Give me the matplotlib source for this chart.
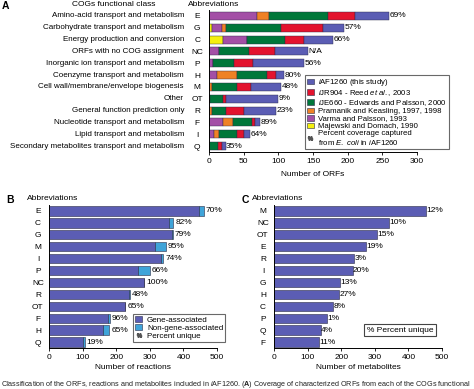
import matplotlib
matplotlib.use('Agg')
import matplotlib.pyplot as plt
import matplotlib.transforms as mtransforms
from matplotlib.patches import Patch
from matplotlib.lines import Line2D

plt.rcParams['font.family'] = ['Liberation Sans', 'DejaVu Sans']
plt.rcParams['font.size'] = 5.8
plt.rcParams['mathtext.fontset'] = 'custom'
plt.rcParams['mathtext.rm'] = 'Liberation Sans'
plt.rcParams['mathtext.it'] = 'Liberation Sans:italic'
plt.rcParams['mathtext.bf'] = 'Liberation Sans:bold'

# ---- panel A data: ORFs per COG class, split by model that first covered them
cog_names = ['Amino-acid transport and metabolism', 'Carbohydrate transport and metabolism',
             'Energy production and conversion', 'ORFs with no COG assignment',
             'Inorganic ion transport and metabolism', 'Coenzyme transport and metabolism',
             'Cell wall/membrane/envelope biogenesis', 'Other',
             'General function prediction only', 'Nucleotide transport and metabolism',
             'Lipid transport and metabolism', 'Secondary metabolites transport and metabolism']
cog_abbr = ['E', 'G', 'C', 'NC', 'P', 'H', 'M', 'OT', 'R', 'F', 'I', 'Q']
majewski = [0, 5, 20, 0, 0, 0, 0, 0, 0, 0, 0, 0]
varma = [69, 14, 35, 14, 6, 11, 0, 1, 0, 20, 7, 0]
pramanik = [18, 6, 0, 0, 0, 30, 5, 0, 4, 14, 7, 0]
ije660 = [84, 79, 54, 43, 30, 42, 35, 19, 21, 28, 26, 13]
ijr904 = [40, 60, 28, 38, 27, 14, 20, 5, 25, 5, 10, 6]
iaf1260 = [49, 31, 42, 48, 74, 11, 44, 75, 47, 7, 9, 5]
cog_pct = ['69%', '57%', '66%', 'N/A', '56%', '80%', '48%', '9%', '23%', '89%', '64%', '35%']

# ---- panel B data: reactions
rxn_abbr = ['E', 'C', 'G', 'M', 'I', 'P', 'NC', 'R', 'OT', 'F', 'H', 'Q']
rxn_gene = [445, 358, 365, 315, 333, 264, 283, 239, 227, 175, 162, 100]
rxn_nongene = [16, 12, 3, 32, 7, 36, 0, 1, 0, 6, 17, 6]
rxn_pct = ['70%', '82%', '79%', '95%', '74%', '66%', '100%', '48%', '65%', '96%', '65%', '19%']

# ---- panel C data: metabolites
met_abbr = ['M', 'NC', 'OT', 'E', 'R', 'I', 'G', 'H', 'C', 'P', 'Q', 'F']
met_count = [453, 342, 306, 273, 239, 234, 196, 193, 175, 159, 139, 133]
met_pct = ['12%', '10%', '15%', '19%', '3%', '20%', '13%', '27%', '8%', '1%', '4%', '11%']

c_blue = '#5b5db4'
c_light = '#3fa4d9'
c_red = '#e3132e'
c_green = '#00773a'
c_orange = '#ef8125'
c_purple = '#a34fa6'
c_yellow = '#f5ef0f'
edge = '#2a2a45'
fs = 6.0

W, H = 474, 389
fig = plt.figure(figsize=(W / 100, H / 100), dpi=100)


def style_axis(ax, labels, xmax, pad):
    n = len(labels)
    ax.set_ylim(n - 0.5, -0.5)
    ax.set_xlim(0, xmax)
    ax.set_yticks(range(n), labels)
    for lbl in ax.get_yticklabels():
        lbl.set_ha('center')
    ax.tick_params(axis='y', length=0, pad=pad, labelsize=fs)
    ax.tick_params(axis='x', length=2.5, width=0.6, pad=1.5, labelsize=fs)
    for s in ['top', 'right']:
        ax.spines[s].set_visible(False)
    for s in ['left', 'bottom']:
        ax.spines[s].set_linewidth(0.7)


def small_legend(handles, labels, anchor, size, spacing):
    leg = fig.legend(handles, labels, loc='upper left', bbox_to_anchor=anchor,
                     fontsize=size, frameon=True, fancybox=False, handlelength=0.9,
                     handleheight=0.7, handletextpad=0.6, labelspacing=spacing,
                     borderpad=0.25, borderaxespad=0)
    leg.get_frame().set_edgecolor('#444444')
    leg.get_frame().set_linewidth(0.8)
    return leg


# ---------------- panel A
axA = fig.add_axes([209 / W, 1 - 152 / H, 208 / W, 142 / H])
ypos = range(len(cog_abbr))
left = [0] * len(cog_abbr)
for vals, col in [(majewski, c_yellow), (varma, c_purple), (pramanik, c_orange),
                  (ije660, c_green), (ijr904, c_red), (iaf1260, c_blue)]:
    axA.barh(ypos, vals, left=left, height=0.68, color=col, edgecolor=edge, linewidth=0.3)
    left = [a + b for a, b in zip(left, vals)]
for i, (tot, p) in enumerate(zip(left, cog_pct)):
    axA.text(tot + 0.5, i, p, va='center', ha='left', fontsize=fs)
style_axis(axA, cog_abbr, 300, 8.5)
axA.set_xticks([0, 50, 100, 150, 200, 250, 300])
axA.set_xlabel('Number of ORFs', fontsize=fs, labelpad=5)
trA = mtransforms.blended_transform_factory(axA.transAxes, axA.transData)
for i, name in enumerate(cog_names):
    axA.text(-25 / 208, i, name, transform=trA, ha='right', va='center', fontsize=5.75)
fig.text(2 / W, 1 - 6 / H, 'A', fontsize=7.5, fontweight='bold', va='center')
fig.text(114 / W, 1 - 5 / H, 'COGs functional class', fontsize=fs, ha='center', va='center')
fig.text(188 / W, 1 - 5 / H, 'Abbreviations', fontsize=fs, ha='left', va='center')

handlesA = [Patch(fc=c_blue, ec=edge, lw=0.4), Patch(fc=c_red, ec=edge, lw=0.4),
            Patch(fc=c_green, ec=edge, lw=0.4), Patch(fc=c_orange, ec=edge, lw=0.4),
            Patch(fc=c_purple, ec=edge, lw=0.4), Patch(fc=c_yellow, ec=edge, lw=0.4),
            Line2D([], [], ls='none', marker=r'$\%$', color='#555555', markersize=3)]
labelsA = [r'$\it{i}$AF1260 (this study)', r'$\it{i}$JR904 - Reed $\it{et\ al.}$, 2003',
           r'$\it{i}$JE660 - Edwards and Palsson, 2000', 'Pramanik and Keasling, 1997, 1998',
           'Varma and Palsson, 1993', 'Majewski and Domach, 1990',
           'Percent coverage captured\n' + r'from $\it{E.\ coli}$ in $\it{i}$AF1260']
small_legend(handlesA, labelsA, (305 / W, 1 - 75 / H), 5.55, 0.0)

# ---------------- panel B
axB = fig.add_axes([49 / W, 1 - 348 / H, 168 / W, 143 / H])
yb = range(len(rxn_abbr))
axB.barh(yb, rxn_gene, height=0.78, color=c_blue, edgecolor=edge, linewidth=0.4)
axB.barh(yb, rxn_nongene, left=rxn_gene, height=0.78, color=c_light, edgecolor=edge, linewidth=0.4)
for i, (g, ng, p) in enumerate(zip(rxn_gene, rxn_nongene, rxn_pct)):
    axB.text(g + ng + 6, i, p, va='center', ha='left', fontsize=fs)
style_axis(axB, rxn_abbr, 500, 8)
axB.set_xticks([0, 100, 200, 300, 400, 500])
axB.set_xlabel('Number of reactions', fontsize=fs, labelpad=2.5)
fig.text(6 / W, 1 - 200 / H, 'B', fontsize=7.5, fontweight='bold', va='center')
fig.text(27 / W, 1 - 199 / H, 'Abbreviations', fontsize=fs, ha='left', va='center')

handlesB = [Patch(fc=c_blue, ec=edge, lw=0.4), Patch(fc=c_light, ec=edge, lw=0.4),
            Line2D([], [], ls='none', marker=r'$\%$', color='#555555', markersize=3)]
small_legend(handlesB, ['Gene-associated', 'Non-gene-associated', 'Percent unique'],
             (133 / W, 1 - 314 / H), 5.8, 0.05)

# ---------------- panel C
axC = fig.add_axes([274 / W, 1 - 348 / H, 168 / W, 143 / H])
yc = range(len(met_abbr))
axC.barh(yc, met_count, height=0.78, color=c_blue, edgecolor=edge, linewidth=0.4)
for i, (v, p) in enumerate(zip(met_count, met_pct)):
    axC.text(v + 1, i, p, va='center', ha='left', fontsize=fs)
style_axis(axC, met_abbr, 500, 8)
axC.set_xticks([0, 100, 200, 300, 400, 500])
axC.set_xlabel('Number of metabolites', fontsize=fs, labelpad=2.5)
fig.text(242 / W, 1 - 200 / H, 'C', fontsize=7.5, fontweight='bold', va='center')
fig.text(252 / W, 1 - 199 / H, 'Abbreviations', fontsize=fs, ha='left', va='center')
fig.text(400 / W, 1 - 330 / H, '% Percent unique', fontsize=fs, ha='center', va='center',
         bbox=dict(boxstyle='square,pad=0.35', fc='white', ec='#444444', lw=0.8))

# caption line at the foot of the figure
fig.text(1 / W, 1 - 384 / H, r'Classification of the ORFs, reactions and metabolites included in $\it{i}$AF1260. '
         r'($\bf{A}$) Coverage of characterized ORFs from each of the COGs functional',
         fontsize=5.2, ha='left', va='center', color='#222222')

fig.savefig('out.png', dpi=100)
